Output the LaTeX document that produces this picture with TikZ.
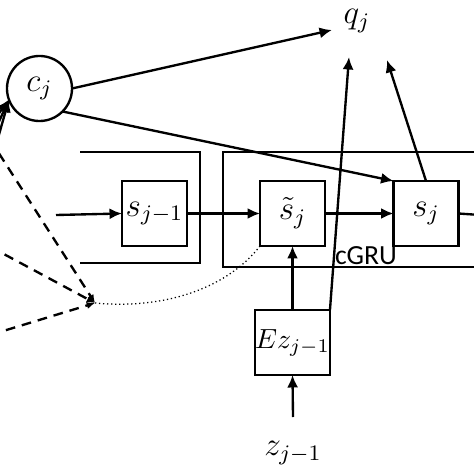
\documentclass[tikz,border=0pt]{standalone}
\usepackage{fontspec}
\usepackage{tikz}
\usetikzlibrary{arrows.meta,positioning,calc}
\newfontfamily\grufont{Carlito}

\begin{document}
\begin{tikzpicture}[
  x=0.0127cm, y=-0.0127cm,
  line width=0.85pt,
  every node/.style={outer sep=0pt},
  unit/.style={draw, minimum size=0.8255cm, inner sep=0pt},
  ctx/.style={draw, circle, minimum size=0.8255cm, inner sep=0pt},
  flow/.style={-{Latex[length=4.5pt,width=4pt]}},
  att/.style={dash pattern=on 3.5pt off 2.5pt, -{Latex[length=3pt,width=2.6pt]}},
]
\useasboundingbox (0,0) rectangle (474,474);
\clip (0,0) rectangle (474,474);

% nodes
\node[ctx] (cj) at (39.5,88.5) {\large$c_j$};
\node[unit] (sprev) at (154.5,213.5) {\large$s_{j-1}$};
\node[unit] (stil) at (292.5,213.5) {\large$\tilde{s}_j$};
\node[unit] (sj) at (426,213.5) {\large$s_j$};
\node[unit] (ez) at (292.5,342.5) {$Ez_{j-1}$};
\node (qj) at (357,21) {\large$q_j$};
\node (zin) at (293,453) {\large$z_{j-1}$};
\node[font=\grufont\fontsize{10}{11}\selectfont] (gru) at (366,256) {cGRU};

\coordinate (qa) at (332,30);
\coordinate (qb) at (349,57);
\coordinate (qc) at (387,60);
\coordinate (sin) at (56,215);
\coordinate (sout) at (480,215);
\coordinate (zbot) at (293,417);
\coordinate (dsh) at (95,303);

% left block and cGRU frame
\draw (80,152) -| (200,263) -- (80,263);
\draw (480,152) -| (223,267) -- (480,267);

% recurrent path
\draw[flow] (sin) -- (sprev.west);
\draw[flow] (sprev.east) -- (stil.west);
\draw[flow] (stil.east) -- (sj.west);
\draw (sj.east) -- (sout);
\draw[flow] (ez.north) -- (stil.south);
\draw[flow] (zbot) -- (ez.south);

% context and output
\draw[flow] (cj.east) -- (qa);
\draw[flow] (cj.-45) -- (sj.north west);
\draw[flow] (ez.north east) -- (qb);
\draw[flow] (sj.north) -- (qc);

% incoming attention (cut at left edge)
\draw[flow] (-14,150) -- (cj.200);
\draw[flow] (-6,152) -- (cj.200);
\draw[flow] (-22,142) -- (cj.200);
\draw[att] (-10,139.4) -- (dsh);
\draw[att] (-10,246.6) -- (dsh);
\draw[att] (-10,335) -- (dsh);
\draw[densely dotted, line width=0.45pt] (dsh) .. controls (170,310) and (230,285) .. (stil.south west);
\end{tikzpicture}
\end{document}
